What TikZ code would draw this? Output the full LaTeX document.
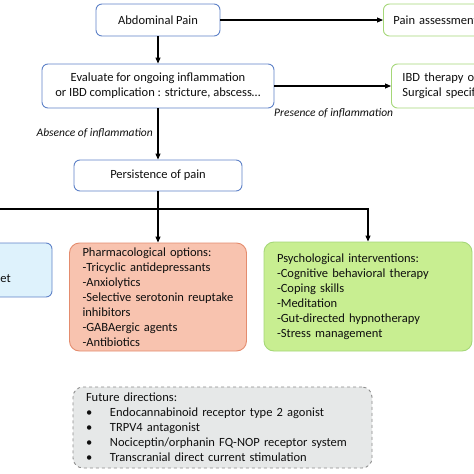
\documentclass[tikz,border=0pt]{standalone}
\usepackage{fontspec}
\setmainfont{Carlito}
\usetikzlibrary{arrows.meta}
\definecolor{bluebd}{RGB}{95,130,200}
\definecolor{bluefill}{RGB}{222,242,252}
\definecolor{greenbd}{RGB}{165,215,120}
\definecolor{greenfill}{RGB}{200,238,145}
\definecolor{salbd}{RGB}{228,140,110}
\definecolor{salfill}{RGB}{248,195,175}
\definecolor{grayfill}{RGB}{230,232,232}
\definecolor{graybd}{RGB}{140,140,140}
\definecolor{txt}{RGB}{15,15,15}
\begin{document}
\begin{tikzpicture}[x=1pt,y=-1pt,
  every node/.style={text=txt},
  font=\fontsize{12.5}{15}\selectfont,
  bbox/.style={draw=bluebd, fill=white, rounded corners=6pt, line width=0.9pt, inner sep=0pt, align=center},
  gbox/.style={draw=greenbd, fill=white, rounded corners=6pt, line width=0.9pt, inner ysep=0pt, align=left},
  listbox/.style={rounded corners=10pt, line width=0.9pt, inner ysep=0pt, inner xsep=13pt, align=left},
  arr/.style={line width=1.1pt, -{Triangle[length=6pt,width=5pt]}},
  lbl/.style={font=\fontsize{11.5}{13}\selectfont\itshape, inner sep=0pt}]
\useasboundingbox (0,0) rectangle (474,474);
\begin{scope}
\clip (0,0) rectangle (474,474);
% boxes
\node[bbox, minimum width=124pt, minimum height=32pt] (abd) at (158,20) {Abdominal Pain};
\node[gbox, anchor=west, minimum height=32pt, text width=130pt, inner xsep=10pt] (pain) at (383,20) {\mbox{Pain assessment}};
\node[bbox, minimum width=232pt, minimum height=44pt] (eval) at (158,86) {Evaluate for ongoing inflammation\\or IBD complication : stricture, abscess\dots};
\node[gbox, anchor=west, minimum height=44pt, text width=150pt, inner xsep=11pt] (ibd) at (391,86) {\mbox{IBD therapy optimization}\\\mbox{Surgical specificities}};
\node[bbox, minimum width=168pt, minimum height=31pt] (pers) at (158,175.5) {Persistence of pain};
\node[bbox, fill=bluefill, minimum width=152pt, minimum height=54pt] (leftb) at (-24,270) {};
\node[anchor=base east, inner sep=0pt] (diet) at (11,282) {Low-FODMAP diet};
\node[listbox, draw=salbd, fill=salfill, minimum height=108pt, text width=151pt] (pharm) at (158,297) {%
\mbox{Pharmacological options:}\\
\mbox{-Tricyclic antidepressants}\\
\mbox{-Anxiolytics}\\
\mbox{-Selective serotonin reuptake}\\
\mbox{inhibitors}\\
\mbox{-GABAergic agents}\\
\mbox{-Antibiotics}};
\node[listbox, draw=greenbd, fill=greenfill, minimum height=109pt, text width=182pt] (psych) at (368,296.5) {%
\mbox{Psychological interventions:}\\
\mbox{-Cognitive behavioral therapy}\\
\mbox{-Coping skills}\\
\mbox{-Meditation}\\
\mbox{-Gut-directed hypnotherapy}\\
\mbox{-Stress management}};
\node[listbox, draw=graybd, dashed, fill=grayfill, minimum height=81pt, text width=273pt] (future) at (222.5,427.5) {%
\mbox{Future directions:}\\
\mbox{\makebox[24pt][l]{\textbullet}Endocannabinoid receptor type 2 agonist}\\
\mbox{\makebox[24pt][l]{\textbullet}TRPV4 antagonist}\\
\mbox{\makebox[24pt][l]{\textbullet}Nociceptin/orphanin FQ-NOP receptor system}\\
\mbox{\makebox[24pt][l]{\textbullet}Transcranial direct current stimulation}};
% labels
\node[lbl, anchor=east] (absl) at (153,133) {Absence of inflammation};
\node[lbl, anchor=west] (presl) at (274,113) {Presence of inflammation};
% connectors
\draw[arr] (abd) -- (pain);
\draw[arr] (abd) -- (eval);
\draw[arr] (eval) -- (ibd);
\draw[arr] (eval) -- (pers);
\draw[arr] (pers) -- (pharm);
\coordinate (j) at (158,209);
\draw[arr] (j) -| (psych.north);
\draw[arr] (j) -| (leftb.north);
\end{scope}
\end{tikzpicture}
\end{document}
